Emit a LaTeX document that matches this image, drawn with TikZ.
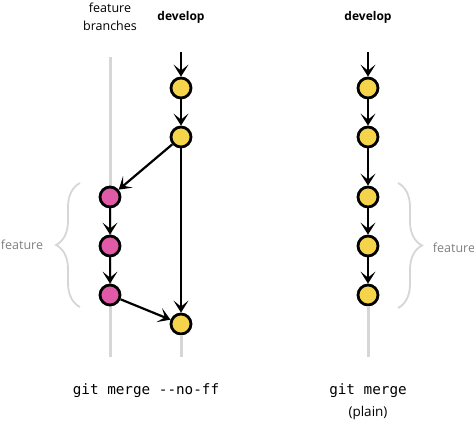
\documentclass[tikz,border=0pt]{standalone}
\usepackage{fontspec}
\setmainfont{Open Sans}
\setmonofont{DejaVu Sans Mono}
\usetikzlibrary{arrows.meta,positioning,decorations.pathreplacing}
\definecolor{devyellow}{HTML}{F5D44C}
\definecolor{featpink}{HTML}{E05AA8}
\definecolor{branchgray}{HTML}{D6D6D6}

\begin{document}
\begin{tikzpicture}[x=1pt,y=-1pt,->,>={Stealth[length=12pt,width=15pt,inset=6pt]},
                    line width=2.2pt,node distance=49pt,
                    commit/.style={circle,draw=black,line width=2.8pt,minimum size=20pt,inner sep=0pt},
                    dev/.style={commit,fill=devyellow},
                    feat/.style={commit,fill=featpink},
                    branch/.style={-,draw=branchgray,line width=3pt},
                    fbrace/.style={-,draw=branchgray,line width=1.8pt,decorate,decoration={brace,amplitude=24pt}},
                    glabel/.style={text=gray,font=\fontsize{12.5}{14}\selectfont}]
  \useasboundingbox (0,0) rectangle (474,425);
  %\tikzstyle{every node}=[draw=red]

  % left: git merge --no-ff
  \coordinate (ftop) at (110,57);
  \coordinate (fbot) at (110,357);
  \draw[branch] (ftop) -- (fbot);
  \coordinate (dtop) at (181,52);
  \node[dev]  (d1) at (181,88)  {};
  \node[dev]  (d2) [below of=d1] {};
  \node[feat] (f1) at (110,197) {};
  \node[feat] (f2) [below of=f1] {};
  \node[feat] (f3) [below of=f2] {};
  \node[dev]  (m)  at (181,324) {};
  \coordinate (dbot) at (181,357);
  \draw[branch] (m) -- (dbot);
  \path (dtop) edge (d1)
        (d1) edge (d2)
        (d2) edge (f1)
        (f1) edge (f2)
        (f2) edge (f3)
        (d2) edge (m)
        (f3) edge (m);
  \coordinate (lb1) at (80,307);
  \coordinate (lb2) at (80,183);
  \draw[fbrace] (lb1) -- (lb2);
  \node[glabel] (lfeat) at (22,245) {feature};

  \node[align=center,font=\fontsize{12.5}{18.5}\selectfont] (fbr) at (110,17) {feature\\branches};
  \node[font=\fontsize{12}{14}\selectfont\bfseries] (ldev) at (181,17) {develop};
  \node[font=\fontsize{14.3}{17}\ttfamily] (lcmd) at (146,391) {git merge --no-ff};

  % right: git merge (plain)
  \coordinate (rtop) at (368,52);
  \node[dev] (r1) at (368,88)  {};
  \node[dev] (r2) [below of=r1] {};
  \node[dev] (r3) at (368,197) {};
  \node[dev] (r4) [below of=r3] {};
  \node[dev] (r5) [below of=r4] {};
  \coordinate (rbot) at (368,357);
  \draw[branch] (r5) -- (rbot);
  \path (rtop) edge (r1)
        (r1) edge (r2)
        (r2) edge (r3)
        (r3) edge (r4)
        (r4) edge (r5);
  \coordinate (rb1) at (398,183);
  \coordinate (rb2) at (398,308);
  \draw[fbrace] (rb1) -- (rb2);
  \node[glabel] (rfeat) at (454,248) {feature};

  \node[font=\fontsize{12}{14}\selectfont\bfseries] (rdev) at (368,17) {develop};
  \node[font=\fontsize{14.3}{17}\ttfamily] (rcmd) at (368,391) {git merge};
  \node[font=\fontsize{13.5}{16}\selectfont] (rplain) at (368,413) {(plain)};
\end{tikzpicture}
\end{document}
